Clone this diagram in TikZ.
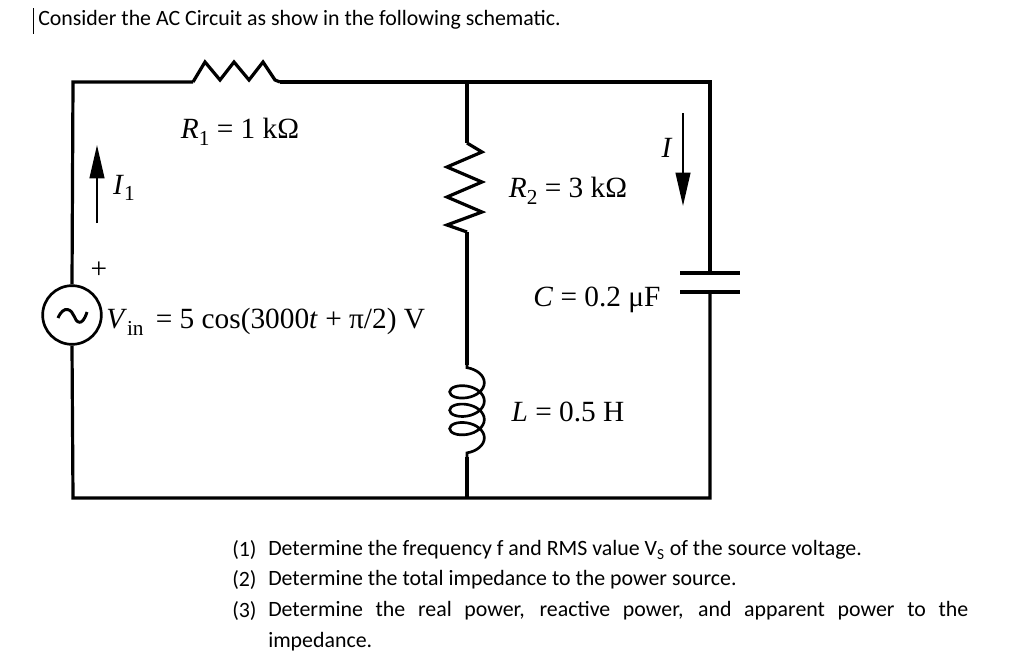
\documentclass[tikz,border=0pt]{standalone}
\usepackage{fontspec}
\setmainfont{Liberation Serif}
\newfontfamily\calfont{Carlito}
\usetikzlibrary{decorations.pathmorphing,arrows.meta}
\newcommand{\lsub}[1]{\raisebox{-5pt}{\fontsize{16}{18}\selectfont #1}}
\begin{document}
\begin{tikzpicture}[x=0.75pt,y=-0.75pt,
  wire/.style={line width=2.4pt,line join=miter},
  lab/.style={font=\fontsize{22}{24}\selectfont,inner sep=0pt},
  txt/.style={font=\calfont\fontsize{16.4}{19}\selectfont,inner sep=0pt,anchor=west},
  cur/.style={-{Triangle[length=25pt,width=11pt]},line width=1.6pt}]
\useasboundingbox (0,0) rectangle (1010,671);
% corners
\coordinate (tl) at (73,82); \coordinate (tm) at (467,82); \coordinate (tr) at (710,82);
\coordinate (bl) at (73,498); \coordinate (bm) at (467,498); \coordinate (br) at (710,498);
\coordinate (r1a) at (193,82); \coordinate (r1b) at (280,82);
\coordinate (r2a) at (467,143); \coordinate (r2b) at (467,232);
\coordinate (la) at (467,365); \coordinate (lb) at (467,457);
\coordinate (ca) at (710,273); \coordinate (cb) at (710,292);
\node[circle,draw,line width=2pt,minimum size=44pt,inner sep=0pt] (src) at (72,315) {};
% wires
\draw[wire] (src.north) -- (tl) -- (r1a);
\draw[wire] (r1a) -- ++(12,-20) -- ++(15,18) -- ++(14,-18) -- ++(15,18) -- ++(14,-18) -- ++(12,18) -- (r1b);
\draw[wire] (r1b) -- (tm) -- (tr) -- (ca);
\draw[wire] (tm) -- (r2a);
\draw[wire] (r2a) -- ++(15,9) -- ++(-35,15) -- ++(35,15) -- ++(-35,15) -- ++(35,15) -- ++(-35,13) -- (r2b);
\draw[wire] (r2b) -- (la);
\draw[line width=2pt,decorate,decoration={coil,aspect=0.6,segment length=13.8pt,amplitude=13pt,pre length=2pt,post length=2pt}] (la) -- (lb);
\draw[wire] (lb) -- (bm);
\draw[wire] (src.south) -- (bl) -- (bm) -- (br) -- (cb);
\draw[line width=3.5pt] (680,273) coordinate (cp1) -- (740,273);
\draw[line width=3.5pt] (680,292) coordinate (cp2) -- (740,292);
\draw[line width=2.2pt] (58,318) .. controls (64,304) and (72,310) .. (74,316) .. controls (76,322) and (82,328) .. (87,312);
% arrows
\coordinate (i1a) at (97,223); \coordinate (i1b) at (97,145);
\draw[cur] (i1a) -- (i1b);
\coordinate (ia) at (683,113); \coordinate (ib) at (683,206);
\draw[cur] (ia) -- (ib);
% labels
\node[lab] (lR1) at (240,132) {\textit{R}\lsub{1} = 1 kΩ};
\node[lab] (lI1) at (124,188) {\textit{I}\lsub{1}};
\node[lab] (lp) at (99,270) {+};
\node[lab,anchor=west] (lV) at (106,322) {\textit{V}\lsub{in}\, = 5 cos(3000\textit{t} + π/2) V};
\node[lab] (lR2) at (568,191) {\textit{R}\lsub{2} = 3 kΩ};
\node[lab] (lI) at (667,148) {\textit{I}};
\node[lab] (lC) at (597,300) {\textit{C} = 0.2 μF};
\node[lab] (lL) at (568,412) {\textit{L} = 0.5 H};
% texts
\draw[line width=0.6pt] (33,8) -- (33,34);
\node[txt] (t0) at (38,20) {Consider the AC Circuit as show in the following schematic.};
\node[txt] (n1) at (232,550) {(1)};
\node[txt] (q1) at (268,550) {Determine the frequency f and RMS value V\textsubscript{S} of the source voltage.};
\node[txt] (n2) at (232,580) {(2)};
\node[txt] (q2) at (268,580) {Determine the total impedance to the power source.};
\node[txt] (n3) at (232,611) {(3)};
\node[txt] (q3) at (268,611) {\makebox[525pt][s]{Determine the real power, reactive power, and apparent power to the}};
\node[txt] (q3b) at (268,642) {impedance.};
\end{tikzpicture}
\end{document}
